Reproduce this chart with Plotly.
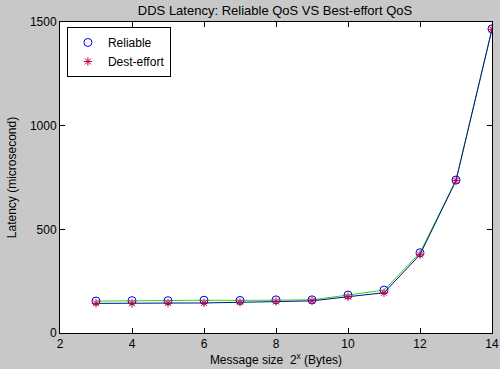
import plotly.graph_objects as go

msg_exp = [3, 4, 5, 6, 7, 8, 9, 10, 11, 12, 13, 14]
reliable = [154, 156, 156, 158, 157, 160, 160, 183, 207, 387, 738, 1467]
best_effort = [143, 143, 144, 145, 148, 152, 155, 175, 194, 378, 735, 1465]
x_ticks = [2, 4, 6, 8, 10, 12, 14]
y_ticks = [0, 500, 1000, 1500]

FONT = "Liberation Sans, Arial, sans-serif"

fig = go.Figure()
fig.add_trace(go.Scatter(x=msg_exp, y=reliable, mode="lines",
                         line=dict(color="#22dd22", width=1), showlegend=False, hoverinfo="skip"))
fig.add_trace(go.Scatter(x=msg_exp, y=best_effort, mode="lines",
                         line=dict(color="#0a0a90", width=1), showlegend=False, hoverinfo="skip"))
fig.add_trace(go.Scatter(x=msg_exp, y=reliable, mode="markers", name="Reliable",
                         marker=dict(symbol="circle-open", size=8, color="#0000ee",
                                     line=dict(width=1, color="#0000ee"))))
fig.add_trace(go.Scatter(x=msg_exp, y=best_effort, mode="markers", name="Dest-effort",
                         marker=dict(symbol="asterisk-open", size=7, color="#cc0033",
                                     line=dict(width=1, color="#cc0033"))))

fig.update_layout(
    width=500, height=369,
    margin=dict(l=60, r=8, t=22, b=36, autoexpand=False),
    paper_bgcolor="#c8c8c8", plot_bgcolor="white",
    font=dict(family=FONT, size=11, color="black"),
    title=dict(text="DDS Latency: Reliable QoS VS Best-effort QoS", x=0.55, xanchor="center",
               y=0.973, yanchor="middle", font=dict(size=13)),
    legend=dict(x=0.016, y=0.984, xanchor="left", yanchor="top", bgcolor="white",
                bordercolor="black", borderwidth=1, font=dict(size=12),
                itemwidth=30, tracegroupgap=0),
    xaxis=dict(range=[2, 14], tickvals=x_ticks, ticks="inside", ticklen=5, tickcolor="black",
               showline=True, linecolor="black", linewidth=1, mirror="ticks",
               showgrid=False, zeroline=False, automargin=False,
               tickfont=dict(size=12),
               title=dict(text="Message size  2<sup>x</sup> (Bytes)", standoff=4, font=dict(size=12))),
    yaxis=dict(range=[0, 1500], tickvals=y_ticks, ticks="inside", ticklen=5, tickcolor="black",
               showline=True, linecolor="black", linewidth=1, mirror="ticks",
               showgrid=False, zeroline=False, automargin=False,
               tickfont=dict(size=12),
               title=dict(text="Latency (microsecond)", standoff=10, font=dict(size=12))),
)

fig.write_html("out.html", config={"displayModeBar": False},
               post_script="document.body.style.margin='0';document.body.style.background='#c8c8c8';")
